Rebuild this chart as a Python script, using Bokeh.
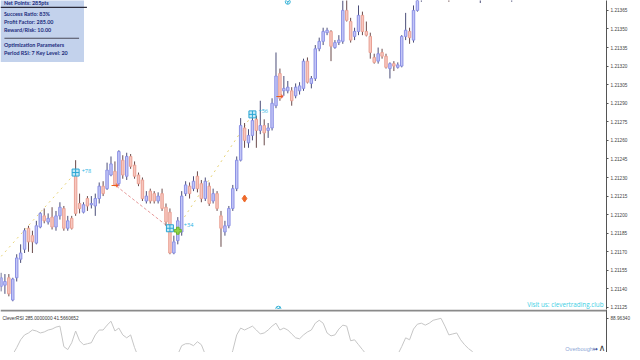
from bokeh.plotting import figure
from bokeh.layouts import column
from bokeh.models import (ColumnDataSource, FixedTicker, Range1d, Label,
                          BoxAnnotation, Span, PrintfTickFormatter)
from bokeh.core.properties import value
from bokeh.embed import file_html
from bokeh.resources import INLINE

# ---------------- data ----------------
opens = [1.21142, 1.21143, 1.21149, 1.21131, 1.21149, 1.21164, 1.21172, 1.21189, 1.21183, 1.21177,
         1.21190, 1.21199, 1.21194, 1.21198, 1.21190, 1.21199, 1.21205, 1.21189, 1.21197, 1.21234,
         1.21209, 1.21202, 1.21213, 1.21208, 1.21207, 1.21213, 1.21223, 1.21221, 1.21232, 1.21235,
         1.21225, 1.21244, 1.21231, 1.21247, 1.21240, 1.21232, 1.21228, 1.21211, 1.21219, 1.21217,
         1.21211, 1.21217, 1.21206, 1.21202, 1.21169, 1.21179, 1.21186, 1.21217, 1.21223, 1.21221,
         1.21231, 1.21225, 1.21213, 1.21223, 1.21211, 1.21217, 1.21199, 1.21186, 1.21191, 1.21205,
         1.21221, 1.21244, 1.21270, 1.21258, 1.21264, 1.21277, 1.21268, 1.21272, 1.21268, 1.21270,
         1.21288, 1.21314, 1.21300, 1.21300, 1.21300, 1.21296, 1.21300, 1.21302, 1.21324, 1.21306,
         1.21310, 1.21334, 1.21340, 1.21347, 1.21348, 1.21335, 1.21339, 1.21340, 1.21365, 1.21356,
         1.21344, 1.21348, 1.21361, 1.21348, 1.21344, 1.21327, 1.21324, 1.21331, 1.21328, 1.21318,
         1.21322, 1.21319, 1.21320, 1.21344, 1.21348, 1.21341, 1.21365, 1.21380, 1.21396, 1.21408,
         1.21403, 1.21413, 1.21420, 1.21412, 1.21406, 1.21393, 1.21402, 1.21410, 1.21404, 1.21413,
         1.21407, 1.21400, 1.21394, 1.21400, 1.21408, 1.21414, 1.21406, 1.21412, 1.21405, 1.21398,
         1.21392]
closes = [1.21149, 1.21146, 1.21136, 1.21148, 1.21165, 1.21169, 1.21187, 1.21178, 1.21178, 1.21191,
          1.21201, 1.21195, 1.21197, 1.21190, 1.21199, 1.21206, 1.21189, 1.21195, 1.21189, 1.21201,
          1.21205, 1.21208, 1.21207, 1.21209, 1.21213, 1.21223, 1.21217, 1.21236, 1.21241, 1.21224,
          1.21251, 1.21232, 1.21247, 1.21239, 1.21231, 1.21225, 1.21213, 1.21215, 1.21211, 1.21211,
          1.21215, 1.21205, 1.21194, 1.21169, 1.21178, 1.21195, 1.21215, 1.21224, 1.21217, 1.21227,
          1.21221, 1.21213, 1.21227, 1.21209, 1.21217, 1.21205, 1.21189, 1.21191, 1.21205, 1.21221,
          1.21244, 1.21272, 1.21260, 1.21264, 1.21276, 1.21268, 1.21272, 1.21266, 1.21270, 1.21290,
          1.21312, 1.21294, 1.21302, 1.21303, 1.21292, 1.21303, 1.21304, 1.21324, 1.21307, 1.21310,
          1.21334, 1.21340, 1.21348, 1.21349, 1.21336, 1.21339, 1.21341, 1.21365, 1.21357, 1.21341,
          1.21348, 1.21361, 1.21348, 1.21345, 1.21331, 1.21323, 1.21330, 1.21328, 1.21319, 1.21322,
          1.21320, 1.21321, 1.21344, 1.21349, 1.21343, 1.21365, 1.21377, 1.21396, 1.21408, 1.21403,
          1.21413, 1.21420, 1.21412, 1.21406, 1.21393, 1.21402, 1.21410, 1.21404, 1.21413, 1.21407,
          1.21400, 1.21394, 1.21400, 1.21408, 1.21414, 1.21406, 1.21412, 1.21405, 1.21398, 1.21392,
          1.21396]
highs = [1.21153, 1.21152, 1.21152, 1.21149, 1.21168, 1.21176, 1.21189, 1.21191, 1.21187, 1.21195,
         1.21202, 1.21205, 1.21201, 1.21206, 1.21203, 1.21210, 1.21207, 1.21199, 1.21199, 1.21244,
         1.21217, 1.21210, 1.21215, 1.21215, 1.21217, 1.21226, 1.21227, 1.21242, 1.21247, 1.21243,
         1.21252, 1.21248, 1.21250, 1.21249, 1.21243, 1.21234, 1.21230, 1.21219, 1.21221, 1.21219,
         1.21218, 1.21221, 1.21209, 1.21205, 1.21183, 1.21198, 1.21219, 1.21227, 1.21226, 1.21231,
         1.21235, 1.21228, 1.21230, 1.21226, 1.21221, 1.21219, 1.21203, 1.21195, 1.21207, 1.21224,
         1.21247, 1.21278, 1.21274, 1.21269, 1.21280, 1.21280, 1.21292, 1.21277, 1.21274, 1.21294,
         1.21331, 1.21318, 1.21312, 1.21308, 1.21303, 1.21306, 1.21307, 1.21326, 1.21327, 1.21312,
         1.21337, 1.21343, 1.21351, 1.21351, 1.21349, 1.21341, 1.21345, 1.21373, 1.21375, 1.21359,
         1.21351, 1.21369, 1.21364, 1.21356, 1.21347, 1.21330, 1.21335, 1.21334, 1.21330, 1.21323,
         1.21324, 1.21323, 1.21345, 1.21363, 1.21351, 1.21369, 1.21381, 1.21400, 1.21413, 1.21416,
         1.21418, 1.21426, 1.21424, 1.21417, 1.21410, 1.21406, 1.21414, 1.21415, 1.21417, 1.21418,
         1.21411, 1.21403, 1.21404, 1.21412, 1.21418, 1.21417, 1.21416, 1.21415, 1.21408, 1.21401,
         1.21399]
lows = [1.21138, 1.21136, 1.21134, 1.21130, 1.21146, 1.21161, 1.21169, 1.21170, 1.21169, 1.21176,
        1.21189, 1.21193, 1.21192, 1.21188, 1.21187, 1.21196, 1.21187, 1.21187, 1.21188, 1.21199,
        1.21201, 1.21201, 1.21203, 1.21205, 1.21199, 1.21209, 1.21215, 1.21220, 1.21231, 1.21223,
        1.21223, 1.21229, 1.21228, 1.21237, 1.21229, 1.21223, 1.21211, 1.21209, 1.21209, 1.21209,
        1.21209, 1.21203, 1.21191, 1.21168, 1.21168, 1.21176, 1.21183, 1.21215, 1.21213, 1.21219,
        1.21218, 1.21210, 1.21211, 1.21207, 1.21209, 1.21203, 1.21174, 1.21183, 1.21189, 1.21203,
        1.21219, 1.21243, 1.21254, 1.21254, 1.21260, 1.21254, 1.21265, 1.21256, 1.21262, 1.21268,
        1.21286, 1.21292, 1.21296, 1.21298, 1.21288, 1.21294, 1.21297, 1.21300, 1.21306, 1.21302,
        1.21308, 1.21332, 1.21337, 1.21345, 1.21324, 1.21334, 1.21337, 1.21338, 1.21356, 1.21339,
        1.21341, 1.21345, 1.21345, 1.21344, 1.21326, 1.21322, 1.21322, 1.21326, 1.21318, 1.21310,
        1.21316, 1.21318, 1.21319, 1.21341, 1.21338, 1.21339, 1.21364, 1.21372, 1.21378, 1.21398,
        1.21396, 1.21406, 1.21404, 1.21398, 1.21372, 1.21388, 1.21397, 1.21398, 1.21400, 1.21402,
        1.21393, 1.21386, 1.21371, 1.21396, 1.21404, 1.21400, 1.21401, 1.21398, 1.21391, 1.21384,
        1.21372]
rsi_values = [72.53, 74.03, 76.12, 77.91, 80.00, 82.39, 83.88, 84.48, 85.38, 85.08,
              84.48, 84.78, 85.38, 85.67, 86.27, 86.57, 80.30, 79.40, 81.49, 85.08,
              82.09, 80.89, 81.19, 81.49, 83.88, 85.38, 85.38, 86.87, 88.06, 85.08,
              85.97, 83.88, 82.99, 83.88, 80.00, 77.01, 74.03, 71.50, 70.20, 69.80,
              70.50, 68.90, 67.00, 65.20, 72.00, 77.91, 80.60, 81.19, 81.19, 80.60,
              81.79, 80.89, 77.91, 74.92, 72.00, 71.00, 69.50, 71.20, 75.52, 79.10,
              83.88, 85.97, 85.38, 85.97, 86.57, 85.38, 84.18, 84.48, 85.38, 86.57,
              87.47, 85.38, 85.97, 85.38, 84.18, 82.99, 82.69, 83.88, 84.78, 85.38,
              87.47, 88.36, 87.47, 84.48, 83.58, 83.88, 85.67, 86.87, 86.57, 82.09,
              82.39, 80.89, 79.40, 77.91, 74.92, 72.00, 70.80, 70.10, 69.00, 71.50,
              74.92, 77.91, 80.30, 82.99, 82.39, 85.67, 87.17, 87.47, 86.87, 87.47,
              88.36, 88.66, 88.96, 86.57, 83.88, 84.18, 84.48, 82.39, 80.89, 79.70,
              78.80, 77.01, 74.50, 72.80, 71.90, 70.60, 71.40, 70.20, 69.50, 70.80,
              71.60]

price_ticks = [1.21125, 1.21140, 1.21155, 1.21170, 1.21185, 1.21200, 1.21215, 1.21230, 1.21245,
               1.21260, 1.21275, 1.21290, 1.21305, 1.21320, 1.21335, 1.21350, 1.21365]
rsi_ticks = [88.96340]

# trade signals
box_idx = [19, 43, 64]
box_price = [1.21234, 1.21189, 1.21281]
gain_idx = [19, 45, 64]
gain_price = [1.21235, 1.21192, 1.21284]
gain_text = ["+78", "+34", "+56"]
arrow_idx = [29, 71]
arrow_price = [1.21224, 1.21296]
diamond_idx = [62]
diamond_price = [1.21213]
cross_idx = [45]
cross_price = [1.21187]
info_idx = [70.6, 73.0]
info_price = [1.21124, 1.21372]
up_x0 = [-2, 45]
up_y0 = [1.21159, 1.21190]
up_x1 = [19, 64]
up_y1 = [1.21234, 1.21281]
dn_x0 = [29.4]
dn_y0 = [1.21223]
dn_x1 = [43]
dn_y1 = [1.21189]

info_lines = ["Success Ratio: 83%", "Profit Factor: 285.00", "Reward/Risk: 10.00"]
opt_lines = ["Optimization Parameters", "Period RSI: 7 Key Level: 20"]

# ---------------- layout helpers (reference pixel -> data) ----------------
FRAME_W = 606
MAIN_H = 309
RSI_H = 43
X0, X1 = -0.125, 154.125
Y_TOP = 1.21373
PPX = 0.0000079
Y_BOT = Y_TOP - 316 * PPX
R_TOP = 91.65
RPX = 0.2987
R_BOT = R_TOP - 44 * RPX


def px2x(px):
    return X0 + px * (X1 - X0) / 617.0


def py2y(py):
    return Y_TOP - py * PPX


def ry(py):
    return R_TOP - (py - 316) * RPX


FONT = "Liberation Sans"
BOX_FONT = "Lato"

idx = list(range(len(opens)))
bull = [c >= o for o, c in zip(opens, closes)]
# only bars that reach into the visible price window are drawn
vis = [i for i in idx if lows[i] <= Y_TOP]
src = ColumnDataSource(dict(
    x=vis,
    top=[max(opens[i], closes[i]) for i in vis],
    bottom=[min(opens[i], closes[i]) for i in vis],
    high=[min(highs[i], Y_TOP + 0.00002) for i in vis],
    low=[lows[i] for i in vis],
    fill=["#c3c6f7" if bull[i] else "#f8c7bf" for i in vis],
    line=["#8b90e4" if bull[i] else "#e9a194" for i in vis],
    wick=["#4a4d78" if bull[i] else "#6a4a4a" for i in vis],
))
bsrc = ColumnDataSource(dict(
    x=[i for i in vis if min(opens[i], closes[i]) <= Y_TOP],
    top=[min(max(opens[i], closes[i]), Y_TOP + 0.00002) for i in vis if min(opens[i], closes[i]) <= Y_TOP],
    bottom=[min(opens[i], closes[i]) for i in vis if min(opens[i], closes[i]) <= Y_TOP],
    fill=["#c3c6f7" if bull[i] else "#f8c7bf" for i in vis if min(opens[i], closes[i]) <= Y_TOP],
    line=["#8b90e4" if bull[i] else "#e9a194" for i in vis if min(opens[i], closes[i]) <= Y_TOP],
))


def style_axis(ax):
    ax.axis_line_color = "#555555"
    ax.axis_line_width = 1
    ax.major_tick_line_color = "#555555"
    ax.major_tick_out = 2
    ax.major_tick_in = 0
    ax.minor_tick_line_color = None
    ax.major_label_standoff = 2
    ax.major_label_text_font = FONT
    ax.major_label_text_font_size = "4.7px"
    ax.major_label_text_color = "#444444"


p = figure(frame_width=FRAME_W, frame_height=MAIN_H,
           x_range=Range1d(X0, X1), y_range=Range1d(Y_BOT, Y_TOP),
           x_axis_location=None, y_axis_location="right",
           toolbar_location=None, output_backend="svg",
           min_border_left=0, min_border_top=0, min_border_bottom=0, min_border_right=0,
           outline_line_color=None, background_fill_color="white", border_fill_color="white")
p.grid.visible = False
p.yaxis.ticker = FixedTicker(ticks=price_ticks)
p.yaxis.formatter = PrintfTickFormatter(format="%.5f")
style_axis(p.yaxis[0])

# trend lines
p.segment(x0=up_x0, y0=up_y0, x1=up_x1, y1=up_y1, line_color="#e8d47a",
          line_width=1, line_dash="dotted")
p.segment(x0=dn_x0, y0=dn_y0, x1=dn_x1, y1=dn_y1, line_color="#e79b9b",
          line_width=1, line_dash="3 2")

# candles
p.segment(x0="x", y0="high", x1="x", y1="low", line_color="wick", line_width=1, source=src)
p.vbar(x="x", width=0.62, top="top", bottom="bottom", fill_color="fill",
       line_color="line", line_width=1, source=bsrc)

# signals
p.scatter(box_idx, box_price, marker="square_cross", size=7,
          line_color="#2aa6d4", fill_color="#c8ebf7", line_width=1)
p.text(gain_idx, gain_price, text=gain_text, x_offset=6, text_color="#2ab3e4",
       text_font=value("Open Sans"), text_font_size="5.6px", text_baseline="middle")
p.text(arrow_idx, arrow_price, text=["→"] * len(arrow_idx), text_color="#ec5a24",
       text_font=value("DejaVu Sans"), text_font_size="9px", text_font_style="bold",
       text_align="center", text_baseline="middle")
p.scatter(diamond_idx, diamond_price, marker="diamond", size=7,
          fill_color="#ee6a2a", line_color="#ee6a2a")
p.scatter(cross_idx, cross_price, marker="plus", size=7,
          fill_color="#8fd446", line_color="#6cb22c")
p.scatter(info_idx, info_price, marker="circle_y", size=5,
          fill_color=None, line_color="#3cb4d8")

# info panel
p.add_layout(BoxAnnotation(left=px2x(0), right=px2x(85), top=py2y(-4), bottom=py2y(63),
                           fill_color="#c3d2ec", fill_alpha=1, line_color=None))
p.add_layout(BoxAnnotation(left=px2x(0), right=px2x(88), top=py2y(6.5), bottom=py2y(7.7),
                           fill_color="#2b2b3a", fill_alpha=1, line_color=None))
p.add_layout(BoxAnnotation(left=px2x(4), right=px2x(80), top=py2y(38.2), bottom=py2y(39.2),
                           fill_color="#4a4a5a", fill_alpha=1, line_color=None))


def box_label(text, py):
    p.add_layout(Label(x=px2x(3.5), y=py2y(py), text=text, text_font=BOX_FONT,
                       text_font_size="5.4px", text_font_style="bold",
                       text_color="#1c2c7c", text_baseline="middle"))


box_label("Net Points:   285pts", 2.8)
for k, t in enumerate(info_lines):
    box_label(t, 13.5 + 8.5 * k)
for k, t in enumerate(opt_lines):
    box_label(t, 45.5 + 8.5 * k)

p.add_layout(Label(x=px2x(614), y=py2y(310.5), text="Visit us: clevertrading.club",
                   text_font="Open Sans", text_font_size="6.3px", text_color="#3ccfe4",
                   text_align="right", text_baseline="middle"))

# ---------------- RSI panel ----------------
r = figure(frame_width=FRAME_W, frame_height=RSI_H,
           x_range=p.x_range, y_range=Range1d(R_BOT, R_TOP),
           x_axis_location=None, y_axis_location="right",
           toolbar_location=None, output_backend="svg",
           min_border_left=0, min_border_top=0, min_border_bottom=0, min_border_right=0,
           outline_line_color=None, background_fill_color="white", border_fill_color="white")
r.grid.visible = False
r.yaxis.ticker = FixedTicker(ticks=rsi_ticks)
r.yaxis.formatter = PrintfTickFormatter(format="%.5f")
style_axis(r.yaxis[0])

r.line(idx, rsi_values, line_color="#c6c6c6", line_width=1)
r.add_layout(Span(location=ry(317), dimension="width", line_color="#8a8a8a", line_width=2))
r.add_layout(Label(x=px2x(2), y=ry(325), text="CleverRSI 285.0000000 41.5660652",
                   text_font=FONT, text_font_size="4.7px", text_color="#333333",
                   text_baseline="middle"))
r.add_layout(Label(x=px2x(575), y=ry(356), text="Overbought",
                   text_font=FONT, text_font_size="5.6px", text_color="#8ea6d6",
                   text_baseline="middle"))
r.add_layout(Label(x=px2x(603), y=ry(356), text="→", text_font="DejaVu Sans",
                   text_font_size="6px", text_font_style="bold", text_color="#1d3a8f",
                   text_baseline="middle"))
r.add_layout(Label(x=px2x(609), y=ry(355.5), text="∧", text_font="DejaVu Sans",
                   text_font_size="9px", text_color="#333333", text_baseline="middle"))

layout = column(p, r, spacing=0)
open("out.html", "w").write(file_html(layout, INLINE, title="CleverRSI"))
